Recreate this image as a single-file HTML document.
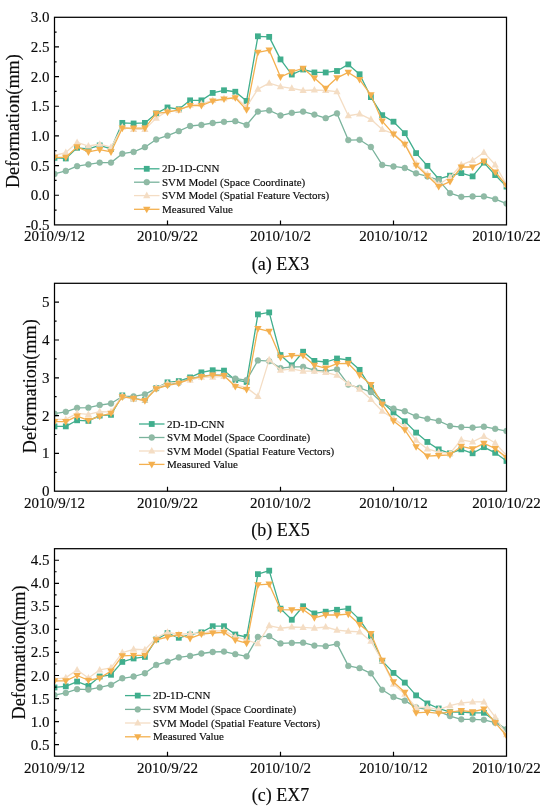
<!DOCTYPE html><html><head><meta charset="utf-8"><title>Deformation prediction comparison</title>
<style>html,body{margin:0;padding:0;background:#fff}body{width:550px;height:812px;overflow:hidden}svg{display:block}text{font-family:'Liberation Serif', 'DejaVu Serif', serif;fill:#0a0a0a;stroke:#0a0a0a;stroke-width:0.15px}</style></head><body>
<svg width="550" height="812" viewBox="0 0 550 812">
<rect width="550" height="812" fill="#fff"/>
<g>
<clipPath id="clipa"><rect x="54.5" y="17.3" width="452.0" height="207.60"/></clipPath><g clip-path="url(#clipa)">
<polyline points="54.50,157.87 65.80,158.47 77.10,147.79 88.40,148.98 99.70,145.42 111.00,148.98 122.30,122.88 133.60,123.47 144.90,122.88 156.20,113.39 167.50,107.46 178.80,109.24 190.10,100.34 201.40,100.34 212.70,92.93 224.00,90.26 235.30,91.74 246.60,100.93 257.90,36.28 269.20,36.87 280.50,59.41 291.80,74.54 303.10,69.50 314.40,72.46 325.70,72.46 337.00,70.98 348.30,64.40 359.60,74.24 370.90,97.08 382.20,115.17 393.50,121.69 404.80,133.14 416.10,153.13 427.40,165.88 438.70,178.99 450.00,175.67 461.30,173.12 472.60,176.38 483.90,162.62 495.20,175.08 506.50,186.58" fill="none" stroke="#40AE8D" stroke-width="1.3" stroke-linejoin="round"/>
<rect x="51.60" y="154.97" width="5.8" height="5.8" fill="#40AE8D"/><rect x="62.90" y="155.57" width="5.8" height="5.8" fill="#40AE8D"/><rect x="74.20" y="144.89" width="5.8" height="5.8" fill="#40AE8D"/><rect x="85.50" y="146.08" width="5.8" height="5.8" fill="#40AE8D"/><rect x="96.80" y="142.52" width="5.8" height="5.8" fill="#40AE8D"/><rect x="108.10" y="146.08" width="5.8" height="5.8" fill="#40AE8D"/><rect x="119.40" y="119.98" width="5.8" height="5.8" fill="#40AE8D"/><rect x="130.70" y="120.57" width="5.8" height="5.8" fill="#40AE8D"/><rect x="142.00" y="119.98" width="5.8" height="5.8" fill="#40AE8D"/><rect x="153.30" y="110.49" width="5.8" height="5.8" fill="#40AE8D"/><rect x="164.60" y="104.56" width="5.8" height="5.8" fill="#40AE8D"/><rect x="175.90" y="106.34" width="5.8" height="5.8" fill="#40AE8D"/><rect x="187.20" y="97.44" width="5.8" height="5.8" fill="#40AE8D"/><rect x="198.50" y="97.44" width="5.8" height="5.8" fill="#40AE8D"/><rect x="209.80" y="90.03" width="5.8" height="5.8" fill="#40AE8D"/><rect x="221.10" y="87.36" width="5.8" height="5.8" fill="#40AE8D"/><rect x="232.40" y="88.84" width="5.8" height="5.8" fill="#40AE8D"/><rect x="243.70" y="98.03" width="5.8" height="5.8" fill="#40AE8D"/><rect x="255.00" y="33.38" width="5.8" height="5.8" fill="#40AE8D"/><rect x="266.30" y="33.97" width="5.8" height="5.8" fill="#40AE8D"/><rect x="277.60" y="56.51" width="5.8" height="5.8" fill="#40AE8D"/><rect x="288.90" y="71.64" width="5.8" height="5.8" fill="#40AE8D"/><rect x="300.20" y="66.60" width="5.8" height="5.8" fill="#40AE8D"/><rect x="311.50" y="69.56" width="5.8" height="5.8" fill="#40AE8D"/><rect x="322.80" y="69.56" width="5.8" height="5.8" fill="#40AE8D"/><rect x="334.10" y="68.08" width="5.8" height="5.8" fill="#40AE8D"/><rect x="345.40" y="61.50" width="5.8" height="5.8" fill="#40AE8D"/><rect x="356.70" y="71.34" width="5.8" height="5.8" fill="#40AE8D"/><rect x="368.00" y="94.18" width="5.8" height="5.8" fill="#40AE8D"/><rect x="379.30" y="112.27" width="5.8" height="5.8" fill="#40AE8D"/><rect x="390.60" y="118.79" width="5.8" height="5.8" fill="#40AE8D"/><rect x="401.90" y="130.24" width="5.8" height="5.8" fill="#40AE8D"/><rect x="413.20" y="150.23" width="5.8" height="5.8" fill="#40AE8D"/><rect x="424.50" y="162.98" width="5.8" height="5.8" fill="#40AE8D"/><rect x="435.80" y="176.09" width="5.8" height="5.8" fill="#40AE8D"/><rect x="447.10" y="172.77" width="5.8" height="5.8" fill="#40AE8D"/><rect x="458.40" y="170.22" width="5.8" height="5.8" fill="#40AE8D"/><rect x="469.70" y="173.48" width="5.8" height="5.8" fill="#40AE8D"/><rect x="481.00" y="159.72" width="5.8" height="5.8" fill="#40AE8D"/><rect x="492.30" y="172.18" width="5.8" height="5.8" fill="#40AE8D"/><rect x="503.60" y="183.68" width="5.8" height="5.8" fill="#40AE8D"/>
<polyline points="54.50,173.89 65.80,170.92 77.10,166.18 88.40,164.40 99.70,162.62 111.00,162.62 122.30,153.72 133.60,151.94 144.90,147.20 156.20,139.49 167.50,135.63 178.80,131.18 190.10,126.02 201.40,124.96 212.70,123.00 224.00,121.87 235.30,121.22 246.60,124.96 257.90,111.61 269.20,110.42 280.50,115.52 291.80,112.80 303.10,111.61 314.40,114.58 325.70,118.13 337.00,113.39 348.30,140.08 359.60,139.78 370.90,147.02 382.20,164.93 393.50,166.48 404.80,167.96 416.10,173.30 427.40,176.38 438.70,180.06 450.00,193.11 461.30,196.84 472.60,196.43 483.90,196.43 495.20,199.04 506.50,203.55" fill="none" stroke="#79B39C" stroke-width="1.3" stroke-linejoin="round"/>
<circle cx="54.50" cy="173.89" r="2.9" fill="#91BAA5" stroke="#80B59F" stroke-width="0.5"/><circle cx="65.80" cy="170.92" r="2.9" fill="#91BAA5" stroke="#80B59F" stroke-width="0.5"/><circle cx="77.10" cy="166.18" r="2.9" fill="#91BAA5" stroke="#80B59F" stroke-width="0.5"/><circle cx="88.40" cy="164.40" r="2.9" fill="#91BAA5" stroke="#80B59F" stroke-width="0.5"/><circle cx="99.70" cy="162.62" r="2.9" fill="#91BAA5" stroke="#80B59F" stroke-width="0.5"/><circle cx="111.00" cy="162.62" r="2.9" fill="#91BAA5" stroke="#80B59F" stroke-width="0.5"/><circle cx="122.30" cy="153.72" r="2.9" fill="#91BAA5" stroke="#80B59F" stroke-width="0.5"/><circle cx="133.60" cy="151.94" r="2.9" fill="#91BAA5" stroke="#80B59F" stroke-width="0.5"/><circle cx="144.90" cy="147.20" r="2.9" fill="#91BAA5" stroke="#80B59F" stroke-width="0.5"/><circle cx="156.20" cy="139.49" r="2.9" fill="#91BAA5" stroke="#80B59F" stroke-width="0.5"/><circle cx="167.50" cy="135.63" r="2.9" fill="#91BAA5" stroke="#80B59F" stroke-width="0.5"/><circle cx="178.80" cy="131.18" r="2.9" fill="#91BAA5" stroke="#80B59F" stroke-width="0.5"/><circle cx="190.10" cy="126.02" r="2.9" fill="#91BAA5" stroke="#80B59F" stroke-width="0.5"/><circle cx="201.40" cy="124.96" r="2.9" fill="#91BAA5" stroke="#80B59F" stroke-width="0.5"/><circle cx="212.70" cy="123.00" r="2.9" fill="#91BAA5" stroke="#80B59F" stroke-width="0.5"/><circle cx="224.00" cy="121.87" r="2.9" fill="#91BAA5" stroke="#80B59F" stroke-width="0.5"/><circle cx="235.30" cy="121.22" r="2.9" fill="#91BAA5" stroke="#80B59F" stroke-width="0.5"/><circle cx="246.60" cy="124.96" r="2.9" fill="#91BAA5" stroke="#80B59F" stroke-width="0.5"/><circle cx="257.90" cy="111.61" r="2.9" fill="#91BAA5" stroke="#80B59F" stroke-width="0.5"/><circle cx="269.20" cy="110.42" r="2.9" fill="#91BAA5" stroke="#80B59F" stroke-width="0.5"/><circle cx="280.50" cy="115.52" r="2.9" fill="#91BAA5" stroke="#80B59F" stroke-width="0.5"/><circle cx="291.80" cy="112.80" r="2.9" fill="#91BAA5" stroke="#80B59F" stroke-width="0.5"/><circle cx="303.10" cy="111.61" r="2.9" fill="#91BAA5" stroke="#80B59F" stroke-width="0.5"/><circle cx="314.40" cy="114.58" r="2.9" fill="#91BAA5" stroke="#80B59F" stroke-width="0.5"/><circle cx="325.70" cy="118.13" r="2.9" fill="#91BAA5" stroke="#80B59F" stroke-width="0.5"/><circle cx="337.00" cy="113.39" r="2.9" fill="#91BAA5" stroke="#80B59F" stroke-width="0.5"/><circle cx="348.30" cy="140.08" r="2.9" fill="#91BAA5" stroke="#80B59F" stroke-width="0.5"/><circle cx="359.60" cy="139.78" r="2.9" fill="#91BAA5" stroke="#80B59F" stroke-width="0.5"/><circle cx="370.90" cy="147.02" r="2.9" fill="#91BAA5" stroke="#80B59F" stroke-width="0.5"/><circle cx="382.20" cy="164.93" r="2.9" fill="#91BAA5" stroke="#80B59F" stroke-width="0.5"/><circle cx="393.50" cy="166.48" r="2.9" fill="#91BAA5" stroke="#80B59F" stroke-width="0.5"/><circle cx="404.80" cy="167.96" r="2.9" fill="#91BAA5" stroke="#80B59F" stroke-width="0.5"/><circle cx="416.10" cy="173.30" r="2.9" fill="#91BAA5" stroke="#80B59F" stroke-width="0.5"/><circle cx="427.40" cy="176.38" r="2.9" fill="#91BAA5" stroke="#80B59F" stroke-width="0.5"/><circle cx="438.70" cy="180.06" r="2.9" fill="#91BAA5" stroke="#80B59F" stroke-width="0.5"/><circle cx="450.00" cy="193.11" r="2.9" fill="#91BAA5" stroke="#80B59F" stroke-width="0.5"/><circle cx="461.30" cy="196.84" r="2.9" fill="#91BAA5" stroke="#80B59F" stroke-width="0.5"/><circle cx="472.60" cy="196.43" r="2.9" fill="#91BAA5" stroke="#80B59F" stroke-width="0.5"/><circle cx="483.90" cy="196.43" r="2.9" fill="#91BAA5" stroke="#80B59F" stroke-width="0.5"/><circle cx="495.20" cy="199.04" r="2.9" fill="#91BAA5" stroke="#80B59F" stroke-width="0.5"/><circle cx="506.50" cy="203.55" r="2.9" fill="#91BAA5" stroke="#80B59F" stroke-width="0.5"/>
<polyline points="54.50,155.50 65.80,152.54 77.10,142.45 88.40,146.01 99.70,144.23 111.00,147.20 122.30,127.03 133.60,129.40 144.90,129.40 156.20,118.13 167.50,111.02 178.80,110.42 190.10,105.09 201.40,103.90 212.70,100.34 224.00,98.56 235.30,97.37 246.60,106.86 257.90,89.07 269.20,83.14 280.50,86.70 291.80,88.30 303.10,90.49 314.40,90.02 325.70,90.49 337.00,91.62 348.30,115.76 359.60,113.80 370.90,119.32 382.20,129.52 393.50,133.56 404.80,143.64 416.10,163.81 427.40,174.19 438.70,184.57 450.00,177.21 461.30,164.81 472.60,160.43 483.90,152.42 495.20,164.81 506.50,184.57" fill="none" stroke="#F4DDC4" stroke-width="1.3" stroke-linejoin="round"/>
<path d="M50.90 158.10L58.10 158.10L54.50 151.50Z" fill="#F4DDC4"/><path d="M62.20 155.14L69.40 155.14L65.80 148.54Z" fill="#F4DDC4"/><path d="M73.50 145.05L80.70 145.05L77.10 138.45Z" fill="#F4DDC4"/><path d="M84.80 148.61L92.00 148.61L88.40 142.01Z" fill="#F4DDC4"/><path d="M96.10 146.83L103.30 146.83L99.70 140.23Z" fill="#F4DDC4"/><path d="M107.40 149.80L114.60 149.80L111.00 143.20Z" fill="#F4DDC4"/><path d="M118.70 129.63L125.90 129.63L122.30 123.03Z" fill="#F4DDC4"/><path d="M130.00 132.00L137.20 132.00L133.60 125.40Z" fill="#F4DDC4"/><path d="M141.30 132.00L148.50 132.00L144.90 125.40Z" fill="#F4DDC4"/><path d="M152.60 120.73L159.80 120.73L156.20 114.13Z" fill="#F4DDC4"/><path d="M163.90 113.62L171.10 113.62L167.50 107.02Z" fill="#F4DDC4"/><path d="M175.20 113.02L182.40 113.02L178.80 106.42Z" fill="#F4DDC4"/><path d="M186.50 107.69L193.70 107.69L190.10 101.09Z" fill="#F4DDC4"/><path d="M197.80 106.50L205.00 106.50L201.40 99.90Z" fill="#F4DDC4"/><path d="M209.10 102.94L216.30 102.94L212.70 96.34Z" fill="#F4DDC4"/><path d="M220.40 101.16L227.60 101.16L224.00 94.56Z" fill="#F4DDC4"/><path d="M231.70 99.97L238.90 99.97L235.30 93.37Z" fill="#F4DDC4"/><path d="M243.00 109.46L250.20 109.46L246.60 102.86Z" fill="#F4DDC4"/><path d="M254.30 91.67L261.50 91.67L257.90 85.07Z" fill="#F4DDC4"/><path d="M265.60 85.74L272.80 85.74L269.20 79.14Z" fill="#F4DDC4"/><path d="M276.90 89.30L284.10 89.30L280.50 82.70Z" fill="#F4DDC4"/><path d="M288.20 90.90L295.40 90.90L291.80 84.30Z" fill="#F4DDC4"/><path d="M299.50 93.09L306.70 93.09L303.10 86.49Z" fill="#F4DDC4"/><path d="M310.80 92.62L318.00 92.62L314.40 86.02Z" fill="#F4DDC4"/><path d="M322.10 93.09L329.30 93.09L325.70 86.49Z" fill="#F4DDC4"/><path d="M333.40 94.22L340.60 94.22L337.00 87.62Z" fill="#F4DDC4"/><path d="M344.70 118.36L351.90 118.36L348.30 111.76Z" fill="#F4DDC4"/><path d="M356.00 116.40L363.20 116.40L359.60 109.80Z" fill="#F4DDC4"/><path d="M367.30 121.92L374.50 121.92L370.90 115.32Z" fill="#F4DDC4"/><path d="M378.60 132.12L385.80 132.12L382.20 125.52Z" fill="#F4DDC4"/><path d="M389.90 136.16L397.10 136.16L393.50 129.56Z" fill="#F4DDC4"/><path d="M401.20 146.24L408.40 146.24L404.80 139.64Z" fill="#F4DDC4"/><path d="M412.50 166.41L419.70 166.41L416.10 159.81Z" fill="#F4DDC4"/><path d="M423.80 176.79L431.00 176.79L427.40 170.19Z" fill="#F4DDC4"/><path d="M435.10 187.17L442.30 187.17L438.70 180.57Z" fill="#F4DDC4"/><path d="M446.40 179.81L453.60 179.81L450.00 173.21Z" fill="#F4DDC4"/><path d="M457.70 167.41L464.90 167.41L461.30 160.81Z" fill="#F4DDC4"/><path d="M469.00 163.03L476.20 163.03L472.60 156.43Z" fill="#F4DDC4"/><path d="M480.30 155.02L487.50 155.02L483.90 148.42Z" fill="#F4DDC4"/><path d="M491.60 167.41L498.80 167.41L495.20 160.81Z" fill="#F4DDC4"/><path d="M502.90 187.17L510.10 187.17L506.50 180.57Z" fill="#F4DDC4"/>
<polyline points="54.50,157.28 65.80,157.28 77.10,146.90 88.40,151.94 99.70,149.57 111.00,151.94 122.30,128.22 133.60,128.22 144.90,128.22 156.20,113.39 167.50,112.20 178.80,109.83 190.10,105.56 201.40,105.56 212.70,100.99 224.00,99.04 235.30,97.73 246.60,109.83 257.90,52.30 269.20,50.16 280.50,76.97 291.80,71.93 303.10,68.25 314.40,78.04 325.70,88.30 337.00,77.80 348.30,72.46 359.60,79.58 370.90,94.94 382.20,121.10 393.50,134.15 404.80,144.23 416.10,165.23 427.40,175.73 438.70,186.58 450.00,181.60 461.30,167.01 472.60,167.01 483.90,161.14 495.20,171.99 506.50,185.52" fill="none" stroke="#F4B04F" stroke-width="1.3" stroke-linejoin="round"/>
<path d="M50.80 154.68L58.20 154.68L54.50 161.28Z" fill="#F4B04F"/><path d="M62.10 154.68L69.50 154.68L65.80 161.28Z" fill="#F4B04F"/><path d="M73.40 144.30L80.80 144.30L77.10 150.90Z" fill="#F4B04F"/><path d="M84.70 149.34L92.10 149.34L88.40 155.94Z" fill="#F4B04F"/><path d="M96.00 146.97L103.40 146.97L99.70 153.57Z" fill="#F4B04F"/><path d="M107.30 149.34L114.70 149.34L111.00 155.94Z" fill="#F4B04F"/><path d="M118.60 125.62L126.00 125.62L122.30 132.22Z" fill="#F4B04F"/><path d="M129.90 125.62L137.30 125.62L133.60 132.22Z" fill="#F4B04F"/><path d="M141.20 125.62L148.60 125.62L144.90 132.22Z" fill="#F4B04F"/><path d="M152.50 110.79L159.90 110.79L156.20 117.39Z" fill="#F4B04F"/><path d="M163.80 109.60L171.20 109.60L167.50 116.20Z" fill="#F4B04F"/><path d="M175.10 107.23L182.50 107.23L178.80 113.83Z" fill="#F4B04F"/><path d="M186.40 102.96L193.80 102.96L190.10 109.56Z" fill="#F4B04F"/><path d="M197.70 102.96L205.10 102.96L201.40 109.56Z" fill="#F4B04F"/><path d="M209.00 98.39L216.40 98.39L212.70 104.99Z" fill="#F4B04F"/><path d="M220.30 96.44L227.70 96.44L224.00 103.04Z" fill="#F4B04F"/><path d="M231.60 95.13L239.00 95.13L235.30 101.73Z" fill="#F4B04F"/><path d="M242.90 107.23L250.30 107.23L246.60 113.83Z" fill="#F4B04F"/><path d="M254.20 49.70L261.60 49.70L257.90 56.30Z" fill="#F4B04F"/><path d="M265.50 47.56L272.90 47.56L269.20 54.16Z" fill="#F4B04F"/><path d="M276.80 74.37L284.20 74.37L280.50 80.97Z" fill="#F4B04F"/><path d="M288.10 69.33L295.50 69.33L291.80 75.93Z" fill="#F4B04F"/><path d="M299.40 65.65L306.80 65.65L303.10 72.25Z" fill="#F4B04F"/><path d="M310.70 75.44L318.10 75.44L314.40 82.04Z" fill="#F4B04F"/><path d="M322.00 85.70L329.40 85.70L325.70 92.30Z" fill="#F4B04F"/><path d="M333.30 75.20L340.70 75.20L337.00 81.80Z" fill="#F4B04F"/><path d="M344.60 69.86L352.00 69.86L348.30 76.46Z" fill="#F4B04F"/><path d="M355.90 76.98L363.30 76.98L359.60 83.58Z" fill="#F4B04F"/><path d="M367.20 92.34L374.60 92.34L370.90 98.94Z" fill="#F4B04F"/><path d="M378.50 118.50L385.90 118.50L382.20 125.10Z" fill="#F4B04F"/><path d="M389.80 131.55L397.20 131.55L393.50 138.15Z" fill="#F4B04F"/><path d="M401.10 141.63L408.50 141.63L404.80 148.23Z" fill="#F4B04F"/><path d="M412.40 162.63L419.80 162.63L416.10 169.23Z" fill="#F4B04F"/><path d="M423.70 173.13L431.10 173.13L427.40 179.73Z" fill="#F4B04F"/><path d="M435.00 183.98L442.40 183.98L438.70 190.58Z" fill="#F4B04F"/><path d="M446.30 179.00L453.70 179.00L450.00 185.60Z" fill="#F4B04F"/><path d="M457.60 164.41L465.00 164.41L461.30 171.01Z" fill="#F4B04F"/><path d="M468.90 164.41L476.30 164.41L472.60 171.01Z" fill="#F4B04F"/><path d="M480.20 158.54L487.60 158.54L483.90 165.14Z" fill="#F4B04F"/><path d="M491.50 169.39L498.90 169.39L495.20 175.99Z" fill="#F4B04F"/><path d="M502.80 182.92L510.20 182.92L506.50 189.52Z" fill="#F4B04F"/>
</g>
<rect x="54.5" y="17.3" width="452.0" height="207.60" fill="none" stroke="#000" stroke-width="1.25"/>
<text x="49.5" y="229.90" font-size="15" text-anchor="end">-0.5</text>
<text x="49.5" y="200.24" font-size="15" text-anchor="end">0.0</text>
<text x="49.5" y="170.59" font-size="15" text-anchor="end">0.5</text>
<text x="49.5" y="140.93" font-size="15" text-anchor="end">1.0</text>
<text x="49.5" y="111.27" font-size="15" text-anchor="end">1.5</text>
<text x="49.5" y="81.61" font-size="15" text-anchor="end">2.0</text>
<text x="49.5" y="51.96" font-size="15" text-anchor="end">2.5</text>
<text x="49.5" y="22.30" font-size="15" text-anchor="end">3.0</text>
<path d="M54.5 210.07h2.1M54.5 195.24h4.5M54.5 180.41h2.1M54.5 165.59h4.5M54.5 150.76h2.1M54.5 135.93h4.5M54.5 121.10h2.1M54.5 106.27h4.5M54.5 91.44h2.1M54.5 76.61h4.5M54.5 61.79h2.1M54.5 46.96h4.5M54.5 32.13h2.1M167.50 224.9v-4.5M280.50 224.9v-4.5M393.50 224.9v-4.5" stroke="#000" stroke-width="1.2" fill="none"/>
<text x="54.50" y="241.20" font-size="15" text-anchor="middle">2010/9/12</text>
<text x="167.50" y="241.20" font-size="15" text-anchor="middle">2010/9/22</text>
<text x="280.50" y="241.20" font-size="15" text-anchor="middle">2010/10/2</text>
<text x="393.50" y="241.20" font-size="15" text-anchor="middle">2010/10/12</text>
<text x="506.50" y="241.20" font-size="15" text-anchor="middle">2010/10/22</text>
<text transform="translate(19.4 121.10) rotate(-90)" font-size="18.3" text-anchor="middle">Deformation(mm)</text>
<text x="280.5" y="269.90" font-size="18" text-anchor="middle">(a) EX3</text>
<path d="M134 168.8H159.5" stroke="#40AE8D" stroke-width="1.3"/>
<rect x="143.85" y="165.90" width="5.8" height="5.8" fill="#40AE8D"/>
<text x="162" y="172.40" font-size="11">2D-1D-CNN</text>
<path d="M134 182.2H159.5" stroke="#79B39C" stroke-width="1.3"/>
<circle cx="146.75" cy="182.20" r="2.9" fill="#91BAA5" stroke="#80B59F" stroke-width="0.5"/>
<text x="162" y="185.80" font-size="11">SVM Model (Space Coordinate)</text>
<path d="M134 195.6H159.5" stroke="#F4DDC4" stroke-width="1.3"/>
<path d="M143.15 198.20L150.35 198.20L146.75 191.60Z" fill="#F4DDC4"/>
<text x="162" y="199.20" font-size="11">SVM Model (Spatial Feature Vectors)</text>
<path d="M134 209.3H159.5" stroke="#F4B04F" stroke-width="1.3"/>
<path d="M143.05 206.70L150.45 206.70L146.75 213.30Z" fill="#F4B04F"/>
<text x="162" y="212.90" font-size="11">Measured Value</text>
</g>
<g>
<clipPath id="clipb"><rect x="54.5" y="283.3" width="452.0" height="207.90"/></clipPath><g clip-path="url(#clipb)">
<polyline points="54.50,426.37 65.80,426.37 77.10,420.29 88.40,420.89 99.70,415.60 111.00,414.84 122.30,395.38 133.60,398.59 144.90,400.10 156.20,388.19 167.50,382.34 178.80,381.09 190.10,377.42 201.40,372.36 212.70,370.24 224.00,370.62 235.30,380.07 246.60,381.96 257.90,314.41 269.20,312.41 280.50,355.01 291.80,365.33 303.10,351.72 314.40,360.90 325.70,362.00 337.00,358.52 348.30,359.85 359.60,369.86 370.90,387.82 382.20,401.99 393.50,412.46 404.80,421.27 416.10,432.61 427.40,441.95 438.70,449.36 450.00,453.29 461.30,449.36 472.60,453.29 483.90,447.16 495.20,452.83 506.50,460.96" fill="none" stroke="#40AE8D" stroke-width="1.3" stroke-linejoin="round"/>
<rect x="51.60" y="423.47" width="5.8" height="5.8" fill="#40AE8D"/><rect x="62.90" y="423.47" width="5.8" height="5.8" fill="#40AE8D"/><rect x="74.20" y="417.39" width="5.8" height="5.8" fill="#40AE8D"/><rect x="85.50" y="417.99" width="5.8" height="5.8" fill="#40AE8D"/><rect x="96.80" y="412.70" width="5.8" height="5.8" fill="#40AE8D"/><rect x="108.10" y="411.94" width="5.8" height="5.8" fill="#40AE8D"/><rect x="119.40" y="392.48" width="5.8" height="5.8" fill="#40AE8D"/><rect x="130.70" y="395.69" width="5.8" height="5.8" fill="#40AE8D"/><rect x="142.00" y="397.20" width="5.8" height="5.8" fill="#40AE8D"/><rect x="153.30" y="385.30" width="5.8" height="5.8" fill="#40AE8D"/><rect x="164.60" y="379.44" width="5.8" height="5.8" fill="#40AE8D"/><rect x="175.90" y="378.19" width="5.8" height="5.8" fill="#40AE8D"/><rect x="187.20" y="374.52" width="5.8" height="5.8" fill="#40AE8D"/><rect x="198.50" y="369.46" width="5.8" height="5.8" fill="#40AE8D"/><rect x="209.80" y="367.34" width="5.8" height="5.8" fill="#40AE8D"/><rect x="221.10" y="367.72" width="5.8" height="5.8" fill="#40AE8D"/><rect x="232.40" y="377.17" width="5.8" height="5.8" fill="#40AE8D"/><rect x="243.70" y="379.06" width="5.8" height="5.8" fill="#40AE8D"/><rect x="255.00" y="311.51" width="5.8" height="5.8" fill="#40AE8D"/><rect x="266.30" y="309.51" width="5.8" height="5.8" fill="#40AE8D"/><rect x="277.60" y="352.11" width="5.8" height="5.8" fill="#40AE8D"/><rect x="288.90" y="362.43" width="5.8" height="5.8" fill="#40AE8D"/><rect x="300.20" y="348.82" width="5.8" height="5.8" fill="#40AE8D"/><rect x="311.50" y="358.00" width="5.8" height="5.8" fill="#40AE8D"/><rect x="322.80" y="359.10" width="5.8" height="5.8" fill="#40AE8D"/><rect x="334.10" y="355.62" width="5.8" height="5.8" fill="#40AE8D"/><rect x="345.40" y="356.95" width="5.8" height="5.8" fill="#40AE8D"/><rect x="356.70" y="366.96" width="5.8" height="5.8" fill="#40AE8D"/><rect x="368.00" y="384.92" width="5.8" height="5.8" fill="#40AE8D"/><rect x="379.30" y="399.09" width="5.8" height="5.8" fill="#40AE8D"/><rect x="390.60" y="409.56" width="5.8" height="5.8" fill="#40AE8D"/><rect x="401.90" y="418.37" width="5.8" height="5.8" fill="#40AE8D"/><rect x="413.20" y="429.71" width="5.8" height="5.8" fill="#40AE8D"/><rect x="424.50" y="439.05" width="5.8" height="5.8" fill="#40AE8D"/><rect x="435.80" y="446.46" width="5.8" height="5.8" fill="#40AE8D"/><rect x="447.10" y="450.39" width="5.8" height="5.8" fill="#40AE8D"/><rect x="458.40" y="446.46" width="5.8" height="5.8" fill="#40AE8D"/><rect x="469.70" y="450.39" width="5.8" height="5.8" fill="#40AE8D"/><rect x="481.00" y="444.26" width="5.8" height="5.8" fill="#40AE8D"/><rect x="492.30" y="449.93" width="5.8" height="5.8" fill="#40AE8D"/><rect x="503.60" y="458.06" width="5.8" height="5.8" fill="#40AE8D"/>
<polyline points="54.50,413.71 65.80,411.82 77.10,407.85 88.40,407.66 99.70,405.02 111.00,403.50 122.30,396.51 133.60,396.32 144.90,394.32 156.20,388.38 167.50,384.60 178.80,382.71 190.10,378.56 201.40,376.29 212.70,374.78 224.00,375.15 235.30,378.56 246.60,380.07 257.90,360.41 269.20,361.17 280.50,368.16 291.80,366.84 303.10,366.84 314.40,370.24 325.70,371.15 337.00,369.29 348.30,384.60 359.60,387.82 370.90,392.16 382.20,403.13 393.50,408.53 404.80,411.25 416.10,416.36 427.40,418.81 438.70,420.89 450.00,426.00 461.30,427.09 472.60,427.54 483.90,426.68 495.20,428.83 506.50,431.02" fill="none" stroke="#79B39C" stroke-width="1.3" stroke-linejoin="round"/>
<circle cx="54.50" cy="413.71" r="2.9" fill="#91BAA5" stroke="#80B59F" stroke-width="0.5"/><circle cx="65.80" cy="411.82" r="2.9" fill="#91BAA5" stroke="#80B59F" stroke-width="0.5"/><circle cx="77.10" cy="407.85" r="2.9" fill="#91BAA5" stroke="#80B59F" stroke-width="0.5"/><circle cx="88.40" cy="407.66" r="2.9" fill="#91BAA5" stroke="#80B59F" stroke-width="0.5"/><circle cx="99.70" cy="405.02" r="2.9" fill="#91BAA5" stroke="#80B59F" stroke-width="0.5"/><circle cx="111.00" cy="403.50" r="2.9" fill="#91BAA5" stroke="#80B59F" stroke-width="0.5"/><circle cx="122.30" cy="396.51" r="2.9" fill="#91BAA5" stroke="#80B59F" stroke-width="0.5"/><circle cx="133.60" cy="396.32" r="2.9" fill="#91BAA5" stroke="#80B59F" stroke-width="0.5"/><circle cx="144.90" cy="394.32" r="2.9" fill="#91BAA5" stroke="#80B59F" stroke-width="0.5"/><circle cx="156.20" cy="388.38" r="2.9" fill="#91BAA5" stroke="#80B59F" stroke-width="0.5"/><circle cx="167.50" cy="384.60" r="2.9" fill="#91BAA5" stroke="#80B59F" stroke-width="0.5"/><circle cx="178.80" cy="382.71" r="2.9" fill="#91BAA5" stroke="#80B59F" stroke-width="0.5"/><circle cx="190.10" cy="378.56" r="2.9" fill="#91BAA5" stroke="#80B59F" stroke-width="0.5"/><circle cx="201.40" cy="376.29" r="2.9" fill="#91BAA5" stroke="#80B59F" stroke-width="0.5"/><circle cx="212.70" cy="374.78" r="2.9" fill="#91BAA5" stroke="#80B59F" stroke-width="0.5"/><circle cx="224.00" cy="375.15" r="2.9" fill="#91BAA5" stroke="#80B59F" stroke-width="0.5"/><circle cx="235.30" cy="378.56" r="2.9" fill="#91BAA5" stroke="#80B59F" stroke-width="0.5"/><circle cx="246.60" cy="380.07" r="2.9" fill="#91BAA5" stroke="#80B59F" stroke-width="0.5"/><circle cx="257.90" cy="360.41" r="2.9" fill="#91BAA5" stroke="#80B59F" stroke-width="0.5"/><circle cx="269.20" cy="361.17" r="2.9" fill="#91BAA5" stroke="#80B59F" stroke-width="0.5"/><circle cx="280.50" cy="368.16" r="2.9" fill="#91BAA5" stroke="#80B59F" stroke-width="0.5"/><circle cx="291.80" cy="366.84" r="2.9" fill="#91BAA5" stroke="#80B59F" stroke-width="0.5"/><circle cx="303.10" cy="366.84" r="2.9" fill="#91BAA5" stroke="#80B59F" stroke-width="0.5"/><circle cx="314.40" cy="370.24" r="2.9" fill="#91BAA5" stroke="#80B59F" stroke-width="0.5"/><circle cx="325.70" cy="371.15" r="2.9" fill="#91BAA5" stroke="#80B59F" stroke-width="0.5"/><circle cx="337.00" cy="369.29" r="2.9" fill="#91BAA5" stroke="#80B59F" stroke-width="0.5"/><circle cx="348.30" cy="384.60" r="2.9" fill="#91BAA5" stroke="#80B59F" stroke-width="0.5"/><circle cx="359.60" cy="387.82" r="2.9" fill="#91BAA5" stroke="#80B59F" stroke-width="0.5"/><circle cx="370.90" cy="392.16" r="2.9" fill="#91BAA5" stroke="#80B59F" stroke-width="0.5"/><circle cx="382.20" cy="403.13" r="2.9" fill="#91BAA5" stroke="#80B59F" stroke-width="0.5"/><circle cx="393.50" cy="408.53" r="2.9" fill="#91BAA5" stroke="#80B59F" stroke-width="0.5"/><circle cx="404.80" cy="411.25" r="2.9" fill="#91BAA5" stroke="#80B59F" stroke-width="0.5"/><circle cx="416.10" cy="416.36" r="2.9" fill="#91BAA5" stroke="#80B59F" stroke-width="0.5"/><circle cx="427.40" cy="418.81" r="2.9" fill="#91BAA5" stroke="#80B59F" stroke-width="0.5"/><circle cx="438.70" cy="420.89" r="2.9" fill="#91BAA5" stroke="#80B59F" stroke-width="0.5"/><circle cx="450.00" cy="426.00" r="2.9" fill="#91BAA5" stroke="#80B59F" stroke-width="0.5"/><circle cx="461.30" cy="427.09" r="2.9" fill="#91BAA5" stroke="#80B59F" stroke-width="0.5"/><circle cx="472.60" cy="427.54" r="2.9" fill="#91BAA5" stroke="#80B59F" stroke-width="0.5"/><circle cx="483.90" cy="426.68" r="2.9" fill="#91BAA5" stroke="#80B59F" stroke-width="0.5"/><circle cx="495.20" cy="428.83" r="2.9" fill="#91BAA5" stroke="#80B59F" stroke-width="0.5"/><circle cx="506.50" cy="431.02" r="2.9" fill="#91BAA5" stroke="#80B59F" stroke-width="0.5"/>
<polyline points="54.50,419.38 65.80,419.38 77.10,413.33 88.40,414.47 99.70,411.56 111.00,411.82 122.30,395.94 133.60,399.12 144.90,400.10 156.20,387.63 167.50,383.28 178.80,382.18 190.10,380.07 201.40,377.16 212.70,377.16 224.00,376.29 235.30,384.98 246.60,387.63 257.90,396.32 269.20,359.66 280.50,370.24 291.80,368.95 303.10,371.15 314.40,371.15 325.70,372.47 337.00,375.27 348.30,383.66 359.60,389.14 370.90,399.35 382.20,411.18 393.50,418.62 404.80,426.56 416.10,440.17 427.40,448.90 438.70,452.19 450.00,453.40 461.30,439.79 472.60,441.95 483.90,436.28 495.20,443.04 506.50,455.48" fill="none" stroke="#F4DDC4" stroke-width="1.3" stroke-linejoin="round"/>
<path d="M50.90 421.98L58.10 421.98L54.50 415.38Z" fill="#F4DDC4"/><path d="M62.20 421.98L69.40 421.98L65.80 415.38Z" fill="#F4DDC4"/><path d="M73.50 415.93L80.70 415.93L77.10 409.33Z" fill="#F4DDC4"/><path d="M84.80 417.07L92.00 417.07L88.40 410.47Z" fill="#F4DDC4"/><path d="M96.10 414.16L103.30 414.16L99.70 407.56Z" fill="#F4DDC4"/><path d="M107.40 414.42L114.60 414.42L111.00 407.82Z" fill="#F4DDC4"/><path d="M118.70 398.54L125.90 398.54L122.30 391.94Z" fill="#F4DDC4"/><path d="M130.00 401.72L137.20 401.72L133.60 395.12Z" fill="#F4DDC4"/><path d="M141.30 402.70L148.50 402.70L144.90 396.10Z" fill="#F4DDC4"/><path d="M152.60 390.23L159.80 390.23L156.20 383.63Z" fill="#F4DDC4"/><path d="M163.90 385.88L171.10 385.88L167.50 379.28Z" fill="#F4DDC4"/><path d="M175.20 384.78L182.40 384.78L178.80 378.18Z" fill="#F4DDC4"/><path d="M186.50 382.67L193.70 382.67L190.10 376.07Z" fill="#F4DDC4"/><path d="M197.80 379.76L205.00 379.76L201.40 373.16Z" fill="#F4DDC4"/><path d="M209.10 379.76L216.30 379.76L212.70 373.16Z" fill="#F4DDC4"/><path d="M220.40 378.89L227.60 378.89L224.00 372.29Z" fill="#F4DDC4"/><path d="M231.70 387.58L238.90 387.58L235.30 380.98Z" fill="#F4DDC4"/><path d="M243.00 390.23L250.20 390.23L246.60 383.63Z" fill="#F4DDC4"/><path d="M254.30 398.92L261.50 398.92L257.90 392.32Z" fill="#F4DDC4"/><path d="M265.60 362.26L272.80 362.26L269.20 355.66Z" fill="#F4DDC4"/><path d="M276.90 372.84L284.10 372.84L280.50 366.24Z" fill="#F4DDC4"/><path d="M288.20 371.55L295.40 371.55L291.80 364.95Z" fill="#F4DDC4"/><path d="M299.50 373.75L306.70 373.75L303.10 367.15Z" fill="#F4DDC4"/><path d="M310.80 373.75L318.00 373.75L314.40 367.15Z" fill="#F4DDC4"/><path d="M322.10 375.07L329.30 375.07L325.70 368.47Z" fill="#F4DDC4"/><path d="M333.40 377.87L340.60 377.87L337.00 371.27Z" fill="#F4DDC4"/><path d="M344.70 386.26L351.90 386.26L348.30 379.66Z" fill="#F4DDC4"/><path d="M356.00 391.74L363.20 391.74L359.60 385.14Z" fill="#F4DDC4"/><path d="M367.30 401.95L374.50 401.95L370.90 395.35Z" fill="#F4DDC4"/><path d="M378.60 413.78L385.80 413.78L382.20 407.18Z" fill="#F4DDC4"/><path d="M389.90 421.22L397.10 421.22L393.50 414.62Z" fill="#F4DDC4"/><path d="M401.20 429.16L408.40 429.16L404.80 422.56Z" fill="#F4DDC4"/><path d="M412.50 442.77L419.70 442.77L416.10 436.17Z" fill="#F4DDC4"/><path d="M423.80 451.50L431.00 451.50L427.40 444.90Z" fill="#F4DDC4"/><path d="M435.10 454.79L442.30 454.79L438.70 448.19Z" fill="#F4DDC4"/><path d="M446.40 456.00L453.60 456.00L450.00 449.40Z" fill="#F4DDC4"/><path d="M457.70 442.39L464.90 442.39L461.30 435.79Z" fill="#F4DDC4"/><path d="M469.00 444.55L476.20 444.55L472.60 437.95Z" fill="#F4DDC4"/><path d="M480.30 438.88L487.50 438.88L483.90 432.28Z" fill="#F4DDC4"/><path d="M491.60 445.64L498.80 445.64L495.20 439.04Z" fill="#F4DDC4"/><path d="M502.90 458.08L510.10 458.08L506.50 451.48Z" fill="#F4DDC4"/>
<polyline points="54.50,421.65 65.80,421.65 77.10,416.13 88.40,420.29 99.70,416.13 111.00,413.33 122.30,396.93 133.60,398.44 144.90,400.63 156.20,388.76 167.50,385.36 178.80,383.28 190.10,378.93 201.40,376.67 212.70,375.15 224.00,375.65 235.30,386.49 246.60,389.52 257.90,328.66 269.20,331.31 280.50,357.39 291.80,355.50 303.10,355.50 314.40,365.33 325.70,368.09 337.00,363.62 348.30,363.44 359.60,374.97 370.90,384.60 382.20,404.26 393.50,420.89 404.80,429.77 416.10,446.75 427.40,456.12 438.70,455.48 450.00,454.80 461.30,446.29 472.60,448.90 483.90,443.46 495.20,448.49 506.50,457.63" fill="none" stroke="#F4B04F" stroke-width="1.3" stroke-linejoin="round"/>
<path d="M50.80 419.05L58.20 419.05L54.50 425.65Z" fill="#F4B04F"/><path d="M62.10 419.05L69.50 419.05L65.80 425.65Z" fill="#F4B04F"/><path d="M73.40 413.53L80.80 413.53L77.10 420.13Z" fill="#F4B04F"/><path d="M84.70 417.69L92.10 417.69L88.40 424.29Z" fill="#F4B04F"/><path d="M96.00 413.53L103.40 413.53L99.70 420.13Z" fill="#F4B04F"/><path d="M107.30 410.73L114.70 410.73L111.00 417.33Z" fill="#F4B04F"/><path d="M118.60 394.33L126.00 394.33L122.30 400.93Z" fill="#F4B04F"/><path d="M129.90 395.84L137.30 395.84L133.60 402.44Z" fill="#F4B04F"/><path d="M141.20 398.03L148.60 398.03L144.90 404.63Z" fill="#F4B04F"/><path d="M152.50 386.16L159.90 386.16L156.20 392.76Z" fill="#F4B04F"/><path d="M163.80 382.76L171.20 382.76L167.50 389.36Z" fill="#F4B04F"/><path d="M175.10 380.68L182.50 380.68L178.80 387.28Z" fill="#F4B04F"/><path d="M186.40 376.33L193.80 376.33L190.10 382.93Z" fill="#F4B04F"/><path d="M197.70 374.07L205.10 374.07L201.40 380.67Z" fill="#F4B04F"/><path d="M209.00 372.55L216.40 372.55L212.70 379.15Z" fill="#F4B04F"/><path d="M220.30 373.05L227.70 373.05L224.00 379.65Z" fill="#F4B04F"/><path d="M231.60 383.89L239.00 383.89L235.30 390.49Z" fill="#F4B04F"/><path d="M242.90 386.92L250.30 386.92L246.60 393.52Z" fill="#F4B04F"/><path d="M254.20 326.06L261.60 326.06L257.90 332.66Z" fill="#F4B04F"/><path d="M265.50 328.71L272.90 328.71L269.20 335.31Z" fill="#F4B04F"/><path d="M276.80 354.79L284.20 354.79L280.50 361.39Z" fill="#F4B04F"/><path d="M288.10 352.90L295.50 352.90L291.80 359.50Z" fill="#F4B04F"/><path d="M299.40 352.90L306.80 352.90L303.10 359.50Z" fill="#F4B04F"/><path d="M310.70 362.73L318.10 362.73L314.40 369.33Z" fill="#F4B04F"/><path d="M322.00 365.49L329.40 365.49L325.70 372.09Z" fill="#F4B04F"/><path d="M333.30 361.02L340.70 361.02L337.00 367.62Z" fill="#F4B04F"/><path d="M344.60 360.84L352.00 360.84L348.30 367.44Z" fill="#F4B04F"/><path d="M355.90 372.37L363.30 372.37L359.60 378.97Z" fill="#F4B04F"/><path d="M367.20 382.00L374.60 382.00L370.90 388.60Z" fill="#F4B04F"/><path d="M378.50 401.66L385.90 401.66L382.20 408.26Z" fill="#F4B04F"/><path d="M389.80 418.29L397.20 418.29L393.50 424.89Z" fill="#F4B04F"/><path d="M401.10 427.17L408.50 427.17L404.80 433.77Z" fill="#F4B04F"/><path d="M412.40 444.15L419.80 444.15L416.10 450.75Z" fill="#F4B04F"/><path d="M423.70 453.52L431.10 453.52L427.40 460.12Z" fill="#F4B04F"/><path d="M435.00 452.88L442.40 452.88L438.70 459.48Z" fill="#F4B04F"/><path d="M446.30 452.20L453.70 452.20L450.00 458.80Z" fill="#F4B04F"/><path d="M457.60 443.69L465.00 443.69L461.30 450.29Z" fill="#F4B04F"/><path d="M468.90 446.30L476.30 446.30L472.60 452.90Z" fill="#F4B04F"/><path d="M480.20 440.86L487.60 440.86L483.90 447.46Z" fill="#F4B04F"/><path d="M491.50 445.89L498.90 445.89L495.20 452.49Z" fill="#F4B04F"/><path d="M502.80 455.03L510.20 455.03L506.50 461.63Z" fill="#F4B04F"/>
</g>
<rect x="54.5" y="283.3" width="452.0" height="207.90" fill="none" stroke="#000" stroke-width="1.25"/>
<text x="49.5" y="496.20" font-size="15" text-anchor="end">0</text>
<text x="49.5" y="458.40" font-size="15" text-anchor="end">1</text>
<text x="49.5" y="420.60" font-size="15" text-anchor="end">2</text>
<text x="49.5" y="382.80" font-size="15" text-anchor="end">3</text>
<text x="49.5" y="345.00" font-size="15" text-anchor="end">4</text>
<text x="49.5" y="307.20" font-size="15" text-anchor="end">5</text>
<path d="M54.5 472.30h2.1M54.5 453.40h4.5M54.5 434.50h2.1M54.5 415.60h4.5M54.5 396.70h2.1M54.5 377.80h4.5M54.5 358.90h2.1M54.5 340.00h4.5M54.5 321.10h2.1M54.5 302.20h4.5M167.50 491.2v-4.5M280.50 491.2v-4.5M393.50 491.2v-4.5" stroke="#000" stroke-width="1.2" fill="none"/>
<text x="54.50" y="507.50" font-size="15" text-anchor="middle">2010/9/12</text>
<text x="167.50" y="507.50" font-size="15" text-anchor="middle">2010/9/22</text>
<text x="280.50" y="507.50" font-size="15" text-anchor="middle">2010/10/2</text>
<text x="393.50" y="507.50" font-size="15" text-anchor="middle">2010/10/12</text>
<text x="506.50" y="507.50" font-size="15" text-anchor="middle">2010/10/22</text>
<text transform="translate(35.8 386.25) rotate(-90)" font-size="18.3" text-anchor="middle">Deformation(mm)</text>
<text x="280.5" y="536.20" font-size="18" text-anchor="middle">(b) EX5</text>
<path d="M139 424H164.5" stroke="#40AE8D" stroke-width="1.3"/>
<rect x="148.85" y="421.10" width="5.8" height="5.8" fill="#40AE8D"/>
<text x="167" y="427.60" font-size="11">2D-1D-CNN</text>
<path d="M139 437.5H164.5" stroke="#79B39C" stroke-width="1.3"/>
<circle cx="151.75" cy="437.50" r="2.9" fill="#91BAA5" stroke="#80B59F" stroke-width="0.5"/>
<text x="167" y="441.10" font-size="11">SVM Model (Space Coordinate)</text>
<path d="M139 451H164.5" stroke="#F4DDC4" stroke-width="1.3"/>
<path d="M148.15 453.60L155.35 453.60L151.75 447.00Z" fill="#F4DDC4"/>
<text x="167" y="454.60" font-size="11">SVM Model (Spatial Feature Vectors)</text>
<path d="M139 464.4H164.5" stroke="#F4B04F" stroke-width="1.3"/>
<path d="M148.05 461.80L155.45 461.80L151.75 468.40Z" fill="#F4B04F"/>
<text x="167" y="468.00" font-size="11">Measured Value</text>
</g>
<g>
<clipPath id="clipc"><rect x="54.5" y="548.7" width="452.0" height="207.50"/></clipPath><g clip-path="url(#clipc)">
<polyline points="54.50,687.45 65.80,686.34 77.10,681.55 88.40,685.93 99.70,676.52 111.00,674.77 122.30,661.90 133.60,658.44 144.90,656.88 156.20,639.45 167.50,633.08 178.80,637.79 190.10,634.51 201.40,632.35 212.70,626.21 224.00,626.21 235.30,634.51 246.60,637.00 257.90,574.15 269.20,570.65 280.50,608.64 291.80,619.76 303.10,606.25 314.40,613.44 325.70,611.69 337.00,609.80 348.30,608.64 359.60,619.62 370.90,636.22 382.20,660.89 393.50,672.92 404.80,682.61 416.10,695.38 427.40,703.45 438.70,708.48 450.00,712.16 461.30,712.16 472.60,712.81 483.90,712.81 495.20,720.88 506.50,730.29" fill="none" stroke="#40AE8D" stroke-width="1.3" stroke-linejoin="round"/>
<rect x="51.60" y="684.55" width="5.8" height="5.8" fill="#40AE8D"/><rect x="62.90" y="683.44" width="5.8" height="5.8" fill="#40AE8D"/><rect x="74.20" y="678.65" width="5.8" height="5.8" fill="#40AE8D"/><rect x="85.50" y="683.03" width="5.8" height="5.8" fill="#40AE8D"/><rect x="96.80" y="673.62" width="5.8" height="5.8" fill="#40AE8D"/><rect x="108.10" y="671.87" width="5.8" height="5.8" fill="#40AE8D"/><rect x="119.40" y="659.00" width="5.8" height="5.8" fill="#40AE8D"/><rect x="130.70" y="655.54" width="5.8" height="5.8" fill="#40AE8D"/><rect x="142.00" y="653.98" width="5.8" height="5.8" fill="#40AE8D"/><rect x="153.30" y="636.55" width="5.8" height="5.8" fill="#40AE8D"/><rect x="164.60" y="630.18" width="5.8" height="5.8" fill="#40AE8D"/><rect x="175.90" y="634.89" width="5.8" height="5.8" fill="#40AE8D"/><rect x="187.20" y="631.61" width="5.8" height="5.8" fill="#40AE8D"/><rect x="198.50" y="629.45" width="5.8" height="5.8" fill="#40AE8D"/><rect x="209.80" y="623.31" width="5.8" height="5.8" fill="#40AE8D"/><rect x="221.10" y="623.31" width="5.8" height="5.8" fill="#40AE8D"/><rect x="232.40" y="631.61" width="5.8" height="5.8" fill="#40AE8D"/><rect x="243.70" y="634.10" width="5.8" height="5.8" fill="#40AE8D"/><rect x="255.00" y="571.25" width="5.8" height="5.8" fill="#40AE8D"/><rect x="266.30" y="567.75" width="5.8" height="5.8" fill="#40AE8D"/><rect x="277.60" y="605.74" width="5.8" height="5.8" fill="#40AE8D"/><rect x="288.90" y="616.86" width="5.8" height="5.8" fill="#40AE8D"/><rect x="300.20" y="603.35" width="5.8" height="5.8" fill="#40AE8D"/><rect x="311.50" y="610.54" width="5.8" height="5.8" fill="#40AE8D"/><rect x="322.80" y="608.79" width="5.8" height="5.8" fill="#40AE8D"/><rect x="334.10" y="606.90" width="5.8" height="5.8" fill="#40AE8D"/><rect x="345.40" y="605.74" width="5.8" height="5.8" fill="#40AE8D"/><rect x="356.70" y="616.72" width="5.8" height="5.8" fill="#40AE8D"/><rect x="368.00" y="633.32" width="5.8" height="5.8" fill="#40AE8D"/><rect x="379.30" y="657.99" width="5.8" height="5.8" fill="#40AE8D"/><rect x="390.60" y="670.02" width="5.8" height="5.8" fill="#40AE8D"/><rect x="401.90" y="679.71" width="5.8" height="5.8" fill="#40AE8D"/><rect x="413.20" y="692.48" width="5.8" height="5.8" fill="#40AE8D"/><rect x="424.50" y="700.55" width="5.8" height="5.8" fill="#40AE8D"/><rect x="435.80" y="705.58" width="5.8" height="5.8" fill="#40AE8D"/><rect x="447.10" y="709.26" width="5.8" height="5.8" fill="#40AE8D"/><rect x="458.40" y="709.26" width="5.8" height="5.8" fill="#40AE8D"/><rect x="469.70" y="709.91" width="5.8" height="5.8" fill="#40AE8D"/><rect x="481.00" y="709.91" width="5.8" height="5.8" fill="#40AE8D"/><rect x="492.30" y="717.98" width="5.8" height="5.8" fill="#40AE8D"/><rect x="503.60" y="727.39" width="5.8" height="5.8" fill="#40AE8D"/>
<polyline points="54.50,695.10 65.80,692.89 77.10,689.20 88.40,689.62 99.70,687.45 111.00,684.82 122.30,678.27 133.60,676.52 144.90,673.25 156.20,664.95 167.50,661.67 178.80,657.43 190.10,655.91 201.40,653.51 212.70,651.99 224.00,651.53 235.30,654.16 246.60,656.37 257.90,636.96 269.20,636.22 280.50,643.46 291.80,642.91 303.10,642.67 314.40,645.53 325.70,646.18 337.00,643.92 348.30,665.91 359.60,668.13 370.90,673.34 382.20,689.80 393.50,696.95 404.80,700.64 416.10,707.37 427.40,709.54 438.70,711.29 450.00,716.08 461.30,719.36 472.60,719.36 483.90,719.82 495.20,722.63 506.50,729.18" fill="none" stroke="#79B39C" stroke-width="1.3" stroke-linejoin="round"/>
<circle cx="54.50" cy="695.10" r="2.9" fill="#91BAA5" stroke="#80B59F" stroke-width="0.5"/><circle cx="65.80" cy="692.89" r="2.9" fill="#91BAA5" stroke="#80B59F" stroke-width="0.5"/><circle cx="77.10" cy="689.20" r="2.9" fill="#91BAA5" stroke="#80B59F" stroke-width="0.5"/><circle cx="88.40" cy="689.62" r="2.9" fill="#91BAA5" stroke="#80B59F" stroke-width="0.5"/><circle cx="99.70" cy="687.45" r="2.9" fill="#91BAA5" stroke="#80B59F" stroke-width="0.5"/><circle cx="111.00" cy="684.82" r="2.9" fill="#91BAA5" stroke="#80B59F" stroke-width="0.5"/><circle cx="122.30" cy="678.27" r="2.9" fill="#91BAA5" stroke="#80B59F" stroke-width="0.5"/><circle cx="133.60" cy="676.52" r="2.9" fill="#91BAA5" stroke="#80B59F" stroke-width="0.5"/><circle cx="144.90" cy="673.25" r="2.9" fill="#91BAA5" stroke="#80B59F" stroke-width="0.5"/><circle cx="156.20" cy="664.95" r="2.9" fill="#91BAA5" stroke="#80B59F" stroke-width="0.5"/><circle cx="167.50" cy="661.67" r="2.9" fill="#91BAA5" stroke="#80B59F" stroke-width="0.5"/><circle cx="178.80" cy="657.43" r="2.9" fill="#91BAA5" stroke="#80B59F" stroke-width="0.5"/><circle cx="190.10" cy="655.91" r="2.9" fill="#91BAA5" stroke="#80B59F" stroke-width="0.5"/><circle cx="201.40" cy="653.51" r="2.9" fill="#91BAA5" stroke="#80B59F" stroke-width="0.5"/><circle cx="212.70" cy="651.99" r="2.9" fill="#91BAA5" stroke="#80B59F" stroke-width="0.5"/><circle cx="224.00" cy="651.53" r="2.9" fill="#91BAA5" stroke="#80B59F" stroke-width="0.5"/><circle cx="235.30" cy="654.16" r="2.9" fill="#91BAA5" stroke="#80B59F" stroke-width="0.5"/><circle cx="246.60" cy="656.37" r="2.9" fill="#91BAA5" stroke="#80B59F" stroke-width="0.5"/><circle cx="257.90" cy="636.96" r="2.9" fill="#91BAA5" stroke="#80B59F" stroke-width="0.5"/><circle cx="269.20" cy="636.22" r="2.9" fill="#91BAA5" stroke="#80B59F" stroke-width="0.5"/><circle cx="280.50" cy="643.46" r="2.9" fill="#91BAA5" stroke="#80B59F" stroke-width="0.5"/><circle cx="291.80" cy="642.91" r="2.9" fill="#91BAA5" stroke="#80B59F" stroke-width="0.5"/><circle cx="303.10" cy="642.67" r="2.9" fill="#91BAA5" stroke="#80B59F" stroke-width="0.5"/><circle cx="314.40" cy="645.53" r="2.9" fill="#91BAA5" stroke="#80B59F" stroke-width="0.5"/><circle cx="325.70" cy="646.18" r="2.9" fill="#91BAA5" stroke="#80B59F" stroke-width="0.5"/><circle cx="337.00" cy="643.92" r="2.9" fill="#91BAA5" stroke="#80B59F" stroke-width="0.5"/><circle cx="348.30" cy="665.91" r="2.9" fill="#91BAA5" stroke="#80B59F" stroke-width="0.5"/><circle cx="359.60" cy="668.13" r="2.9" fill="#91BAA5" stroke="#80B59F" stroke-width="0.5"/><circle cx="370.90" cy="673.34" r="2.9" fill="#91BAA5" stroke="#80B59F" stroke-width="0.5"/><circle cx="382.20" cy="689.80" r="2.9" fill="#91BAA5" stroke="#80B59F" stroke-width="0.5"/><circle cx="393.50" cy="696.95" r="2.9" fill="#91BAA5" stroke="#80B59F" stroke-width="0.5"/><circle cx="404.80" cy="700.64" r="2.9" fill="#91BAA5" stroke="#80B59F" stroke-width="0.5"/><circle cx="416.10" cy="707.37" r="2.9" fill="#91BAA5" stroke="#80B59F" stroke-width="0.5"/><circle cx="427.40" cy="709.54" r="2.9" fill="#91BAA5" stroke="#80B59F" stroke-width="0.5"/><circle cx="438.70" cy="711.29" r="2.9" fill="#91BAA5" stroke="#80B59F" stroke-width="0.5"/><circle cx="450.00" cy="716.08" r="2.9" fill="#91BAA5" stroke="#80B59F" stroke-width="0.5"/><circle cx="461.30" cy="719.36" r="2.9" fill="#91BAA5" stroke="#80B59F" stroke-width="0.5"/><circle cx="472.60" cy="719.36" r="2.9" fill="#91BAA5" stroke="#80B59F" stroke-width="0.5"/><circle cx="483.90" cy="719.82" r="2.9" fill="#91BAA5" stroke="#80B59F" stroke-width="0.5"/><circle cx="495.20" cy="722.63" r="2.9" fill="#91BAA5" stroke="#80B59F" stroke-width="0.5"/><circle cx="506.50" cy="729.18" r="2.9" fill="#91BAA5" stroke="#80B59F" stroke-width="0.5"/>
<polyline points="54.50,679.38 65.80,677.63 77.10,669.97 88.40,678.04 99.70,669.97 111.00,667.81 122.30,652.54 133.60,649.27 144.90,649.68 156.20,637.88 167.50,632.16 178.80,634.51 190.10,633.45 201.40,633.45 212.70,631.24 224.00,630.59 235.30,636.73 246.60,640.00 257.90,643.69 269.20,625.61 280.50,628.24 291.80,627.00 303.10,627.41 314.40,628.06 325.70,627.00 337.00,630.09 348.30,631.24 359.60,631.84 370.90,641.25 382.20,660.89 393.50,684.04 404.80,694.27 416.10,707.37 427.40,707.37 438.70,709.54 450.00,705.62 461.30,702.99 472.60,701.93 483.90,701.93 495.20,717.19 506.50,734.67" fill="none" stroke="#F4DDC4" stroke-width="1.3" stroke-linejoin="round"/>
<path d="M50.90 681.98L58.10 681.98L54.50 675.38Z" fill="#F4DDC4"/><path d="M62.20 680.23L69.40 680.23L65.80 673.63Z" fill="#F4DDC4"/><path d="M73.50 672.57L80.70 672.57L77.10 665.97Z" fill="#F4DDC4"/><path d="M84.80 680.64L92.00 680.64L88.40 674.04Z" fill="#F4DDC4"/><path d="M96.10 672.57L103.30 672.57L99.70 665.97Z" fill="#F4DDC4"/><path d="M107.40 670.41L114.60 670.41L111.00 663.81Z" fill="#F4DDC4"/><path d="M118.70 655.14L125.90 655.14L122.30 648.54Z" fill="#F4DDC4"/><path d="M130.00 651.87L137.20 651.87L133.60 645.27Z" fill="#F4DDC4"/><path d="M141.30 652.28L148.50 652.28L144.90 645.68Z" fill="#F4DDC4"/><path d="M152.60 640.48L159.80 640.48L156.20 633.88Z" fill="#F4DDC4"/><path d="M163.90 634.76L171.10 634.76L167.50 628.16Z" fill="#F4DDC4"/><path d="M175.20 637.11L182.40 637.11L178.80 630.51Z" fill="#F4DDC4"/><path d="M186.50 636.05L193.70 636.05L190.10 629.45Z" fill="#F4DDC4"/><path d="M197.80 636.05L205.00 636.05L201.40 629.45Z" fill="#F4DDC4"/><path d="M209.10 633.84L216.30 633.84L212.70 627.24Z" fill="#F4DDC4"/><path d="M220.40 633.19L227.60 633.19L224.00 626.59Z" fill="#F4DDC4"/><path d="M231.70 639.33L238.90 639.33L235.30 632.73Z" fill="#F4DDC4"/><path d="M243.00 642.60L250.20 642.60L246.60 636.00Z" fill="#F4DDC4"/><path d="M254.30 646.29L261.50 646.29L257.90 639.69Z" fill="#F4DDC4"/><path d="M265.60 628.21L272.80 628.21L269.20 621.61Z" fill="#F4DDC4"/><path d="M276.90 630.84L284.10 630.84L280.50 624.24Z" fill="#F4DDC4"/><path d="M288.20 629.60L295.40 629.60L291.80 623.00Z" fill="#F4DDC4"/><path d="M299.50 630.01L306.70 630.01L303.10 623.41Z" fill="#F4DDC4"/><path d="M310.80 630.66L318.00 630.66L314.40 624.06Z" fill="#F4DDC4"/><path d="M322.10 629.60L329.30 629.60L325.70 623.00Z" fill="#F4DDC4"/><path d="M333.40 632.69L340.60 632.69L337.00 626.09Z" fill="#F4DDC4"/><path d="M344.70 633.84L351.90 633.84L348.30 627.24Z" fill="#F4DDC4"/><path d="M356.00 634.44L363.20 634.44L359.60 627.84Z" fill="#F4DDC4"/><path d="M367.30 643.85L374.50 643.85L370.90 637.25Z" fill="#F4DDC4"/><path d="M378.60 663.49L385.80 663.49L382.20 656.89Z" fill="#F4DDC4"/><path d="M389.90 686.64L397.10 686.64L393.50 680.04Z" fill="#F4DDC4"/><path d="M401.20 696.87L408.40 696.87L404.80 690.27Z" fill="#F4DDC4"/><path d="M412.50 709.97L419.70 709.97L416.10 703.37Z" fill="#F4DDC4"/><path d="M423.80 709.97L431.00 709.97L427.40 703.37Z" fill="#F4DDC4"/><path d="M435.10 712.14L442.30 712.14L438.70 705.54Z" fill="#F4DDC4"/><path d="M446.40 708.22L453.60 708.22L450.00 701.62Z" fill="#F4DDC4"/><path d="M457.70 705.59L464.90 705.59L461.30 698.99Z" fill="#F4DDC4"/><path d="M469.00 704.53L476.20 704.53L472.60 697.93Z" fill="#F4DDC4"/><path d="M480.30 704.53L487.50 704.53L483.90 697.93Z" fill="#F4DDC4"/><path d="M491.60 719.79L498.80 719.79L495.20 713.19Z" fill="#F4DDC4"/><path d="M502.90 737.27L510.10 737.27L506.50 730.67Z" fill="#F4DDC4"/>
<polyline points="54.50,680.90 65.80,680.90 77.10,675.51 88.40,680.26 99.70,678.04 111.00,671.08 122.30,655.82 133.60,655.36 144.90,655.36 156.20,639.86 167.50,637.00 178.80,634.51 190.10,638.43 201.40,634.10 212.70,632.99 224.00,632.35 235.30,640.00 246.60,643.23 257.90,584.90 269.20,584.21 280.50,609.57 291.80,609.94 303.10,609.52 314.40,617.82 325.70,614.96 337.00,615.01 348.30,614.18 359.60,624.60 370.90,633.64 382.20,660.24 393.50,681.96 404.80,692.34 416.10,712.81 427.40,712.16 438.70,713.46 450.00,712.16 461.30,710.64 472.60,711.75 483.90,709.12 495.20,722.63 506.50,735.73" fill="none" stroke="#F4B04F" stroke-width="1.3" stroke-linejoin="round"/>
<path d="M50.80 678.30L58.20 678.30L54.50 684.90Z" fill="#F4B04F"/><path d="M62.10 678.30L69.50 678.30L65.80 684.90Z" fill="#F4B04F"/><path d="M73.40 672.91L80.80 672.91L77.10 679.51Z" fill="#F4B04F"/><path d="M84.70 677.66L92.10 677.66L88.40 684.26Z" fill="#F4B04F"/><path d="M96.00 675.44L103.40 675.44L99.70 682.04Z" fill="#F4B04F"/><path d="M107.30 668.48L114.70 668.48L111.00 675.08Z" fill="#F4B04F"/><path d="M118.60 653.22L126.00 653.22L122.30 659.82Z" fill="#F4B04F"/><path d="M129.90 652.75L137.30 652.75L133.60 659.36Z" fill="#F4B04F"/><path d="M141.20 652.75L148.60 652.75L144.90 659.36Z" fill="#F4B04F"/><path d="M152.50 637.26L159.90 637.26L156.20 643.86Z" fill="#F4B04F"/><path d="M163.80 634.40L171.20 634.40L167.50 641.00Z" fill="#F4B04F"/><path d="M175.10 631.91L182.50 631.91L178.80 638.51Z" fill="#F4B04F"/><path d="M186.40 635.83L193.80 635.83L190.10 642.43Z" fill="#F4B04F"/><path d="M197.70 631.50L205.10 631.50L201.40 638.10Z" fill="#F4B04F"/><path d="M209.00 630.39L216.40 630.39L212.70 636.99Z" fill="#F4B04F"/><path d="M220.30 629.75L227.70 629.75L224.00 636.35Z" fill="#F4B04F"/><path d="M231.60 637.40L239.00 637.40L235.30 644.00Z" fill="#F4B04F"/><path d="M242.90 640.63L250.30 640.63L246.60 647.23Z" fill="#F4B04F"/><path d="M254.20 582.30L261.60 582.30L257.90 588.90Z" fill="#F4B04F"/><path d="M265.50 581.61L272.90 581.61L269.20 588.21Z" fill="#F4B04F"/><path d="M276.80 606.97L284.20 606.97L280.50 613.57Z" fill="#F4B04F"/><path d="M288.10 607.34L295.50 607.34L291.80 613.94Z" fill="#F4B04F"/><path d="M299.40 606.92L306.80 606.92L303.10 613.52Z" fill="#F4B04F"/><path d="M310.70 615.22L318.10 615.22L314.40 621.82Z" fill="#F4B04F"/><path d="M322.00 612.36L329.40 612.36L325.70 618.96Z" fill="#F4B04F"/><path d="M333.30 612.41L340.70 612.41L337.00 619.01Z" fill="#F4B04F"/><path d="M344.60 611.58L352.00 611.58L348.30 618.18Z" fill="#F4B04F"/><path d="M355.90 622.00L363.30 622.00L359.60 628.60Z" fill="#F4B04F"/><path d="M367.20 631.04L374.60 631.04L370.90 637.64Z" fill="#F4B04F"/><path d="M378.50 657.64L385.90 657.64L382.20 664.24Z" fill="#F4B04F"/><path d="M389.80 679.36L397.20 679.36L393.50 685.96Z" fill="#F4B04F"/><path d="M401.10 689.74L408.50 689.74L404.80 696.34Z" fill="#F4B04F"/><path d="M412.40 710.21L419.80 710.21L416.10 716.81Z" fill="#F4B04F"/><path d="M423.70 709.56L431.10 709.56L427.40 716.16Z" fill="#F4B04F"/><path d="M435.00 710.86L442.40 710.86L438.70 717.46Z" fill="#F4B04F"/><path d="M446.30 709.56L453.70 709.56L450.00 716.16Z" fill="#F4B04F"/><path d="M457.60 708.04L465.00 708.04L461.30 714.64Z" fill="#F4B04F"/><path d="M468.90 709.15L476.30 709.15L472.60 715.75Z" fill="#F4B04F"/><path d="M480.20 706.52L487.60 706.52L483.90 713.12Z" fill="#F4B04F"/><path d="M491.50 720.03L498.90 720.03L495.20 726.63Z" fill="#F4B04F"/><path d="M502.80 733.13L510.20 733.13L506.50 739.73Z" fill="#F4B04F"/>
</g>
<rect x="54.5" y="548.7" width="452.0" height="207.50" fill="none" stroke="#000" stroke-width="1.25"/>
<text x="49.5" y="749.67" font-size="15" text-anchor="end">0.5</text>
<text x="49.5" y="726.62" font-size="15" text-anchor="end">1.0</text>
<text x="49.5" y="703.56" font-size="15" text-anchor="end">1.5</text>
<text x="49.5" y="680.51" font-size="15" text-anchor="end">2.0</text>
<text x="49.5" y="657.45" font-size="15" text-anchor="end">2.5</text>
<text x="49.5" y="634.39" font-size="15" text-anchor="end">3.0</text>
<text x="49.5" y="611.34" font-size="15" text-anchor="end">3.5</text>
<text x="49.5" y="588.28" font-size="15" text-anchor="end">4.0</text>
<text x="49.5" y="565.23" font-size="15" text-anchor="end">4.5</text>
<path d="M54.5 744.67h4.5M54.5 733.14h2.1M54.5 721.62h4.5M54.5 710.09h2.1M54.5 698.56h4.5M54.5 687.03h2.1M54.5 675.51h4.5M54.5 663.98h2.1M54.5 652.45h4.5M54.5 640.92h2.1M54.5 629.39h4.5M54.5 617.87h2.1M54.5 606.34h4.5M54.5 594.81h2.1M54.5 583.28h4.5M54.5 571.76h2.1M54.5 560.23h4.5M167.50 756.2v-4.5M280.50 756.2v-4.5M393.50 756.2v-4.5" stroke="#000" stroke-width="1.2" fill="none"/>
<text x="54.50" y="772.50" font-size="15" text-anchor="middle">2010/9/12</text>
<text x="167.50" y="772.50" font-size="15" text-anchor="middle">2010/9/22</text>
<text x="280.50" y="772.50" font-size="15" text-anchor="middle">2010/10/2</text>
<text x="393.50" y="772.50" font-size="15" text-anchor="middle">2010/10/12</text>
<text x="506.50" y="772.50" font-size="15" text-anchor="middle">2010/10/22</text>
<text transform="translate(24.6 652.45) rotate(-90)" font-size="18.3" text-anchor="middle">Deformation(mm)</text>
<text x="280.5" y="800.70" font-size="18" text-anchor="middle">(c) EX7</text>
<path d="M125 695.6H150.5" stroke="#40AE8D" stroke-width="1.3"/>
<rect x="134.85" y="692.70" width="5.8" height="5.8" fill="#40AE8D"/>
<text x="153" y="699.20" font-size="11">2D-1D-CNN</text>
<path d="M125 709.4H150.5" stroke="#79B39C" stroke-width="1.3"/>
<circle cx="137.75" cy="709.40" r="2.9" fill="#91BAA5" stroke="#80B59F" stroke-width="0.5"/>
<text x="153" y="713.00" font-size="11">SVM Model (Space Coordinate)</text>
<path d="M125 723H150.5" stroke="#F4DDC4" stroke-width="1.3"/>
<path d="M134.15 725.60L141.35 725.60L137.75 719.00Z" fill="#F4DDC4"/>
<text x="153" y="726.60" font-size="11">SVM Model (Spatial Feature Vectors)</text>
<path d="M125 736.8H150.5" stroke="#F4B04F" stroke-width="1.3"/>
<path d="M134.05 734.20L141.45 734.20L137.75 740.80Z" fill="#F4B04F"/>
<text x="153" y="740.40" font-size="11">Measured Value</text>
</g>
</svg></body></html>
